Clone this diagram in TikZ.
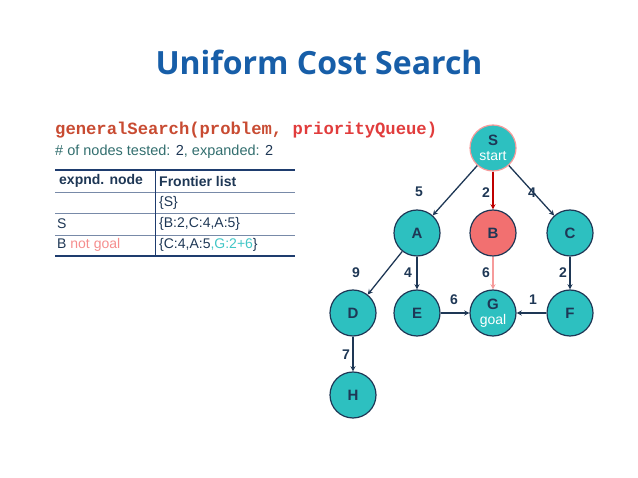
\documentclass[tikz,border=0pt]{standalone}
\usepackage{fontspec}
\setmainfont{Liberation Sans}
\newfontfamily\titlefont{Open Sans}
\setmonofont{Liberation Mono}
\begin{document}
\begin{tikzpicture}[x=1pt,y=-1pt,
  gnode/.style={circle,draw=edgec,line width=1.2pt,fill=teal1,minimum size=46pt,inner sep=0pt,font=\fontsize{15}{16}\selectfont\bfseries,text=edgec,align=center},
  edge/.style={draw=edgec,line width=1.3pt,-stealth},
  wl/.style={font=\fontsize{14}{15}\selectfont\bfseries,text=edgec},
  tl/.style={anchor=west,font=\fontsize{14}{15}\selectfont,text=edgec,inner sep=0pt}]
\definecolor{titleb}{RGB}{23,94,168}
\definecolor{edgec}{RGB}{30,55,85}
\definecolor{teal1}{RGB}{45,192,192}
\definecolor{salmon}{RGB}{242,112,112}
\definecolor{codea}{RGB}{200,75,50}
\definecolor{codeb}{RGB}{225,60,60}
\definecolor{tealg}{RGB}{50,110,110}
\definecolor{rule}{RGB}{30,60,110}
\useasboundingbox (0,0) rectangle (638,478);
\node[font=\titlefont\fontsize{32}{34}\selectfont\bfseries,text=titleb] (title) at (319,62) {Uniform Cost Search};
\node[anchor=west,inner sep=0pt,font=\ttfamily\bfseries\fontsize{17.2}{18}\selectfont] (code) at (55,130) {\textcolor{codea}{generalSearch(problem,} \textcolor{codeb}{priorityQueue)}};
\node[anchor=west,inner sep=0pt,font=\fontsize{14.5}{15}\selectfont,text=tealg] (cnt) at (55,152) {\# of nodes tested: \textcolor{edgec}{2}, expanded: \textcolor{edgec}{2}};
% table
\draw[rule,line width=1.6pt] (55,170) -- (295,170);
\draw[rule!60,line width=0.8pt] (55,192) -- (295,192);
\draw[rule!60,line width=0.8pt] (55,213) -- (295,213);
\draw[rule!60,line width=0.8pt] (55,235) -- (295,235);
\draw[rule,line width=1.6pt] (55,256) -- (295,256);
\draw[rule,line width=1pt] (155,170) -- (155,256);
\node[tl,font=\fontsize{14}{15}\selectfont\bfseries] (h1) at (59,181) {expnd. node};
\node[tl,font=\fontsize{14}{15}\selectfont\bfseries] (h2) at (159,181) {Frontier list};
\node[tl] (r1b) at (159,203) {\{S\}};
\node[tl] (r2a) at (57,224) {S};
\node[tl] (r2b) at (159,224) {\{B:2,C:4,A:5\}};
\node[tl] (r3a) at (57,245) {B \textcolor{salmon!80}{not goal}};
\node[tl] (r3b) at (159,245) {\{C:4,A:5\textcolor{teal1!90}{,G:2+6}\}};
% graph
\node[gnode,draw=salmon!70] (S) at (493,148) {S\\[-1pt]\textcolor{white}{\normalfont\fontsize{14}{15}\selectfont start}};
\node[gnode] (A) at (417,233) {A};
\node[gnode,fill=salmon] (B) at (493,233) {B};
\node[gnode] (C) at (570,233) {C};
\node[gnode] (D) at (353,313) {D};
\node[gnode] (E) at (417,313) {E};
\node[gnode] (G) at (493,313) {G\\[-1pt]\textcolor{white}{\normalfont\fontsize{14}{15}\selectfont goal}};
\node[gnode] (F) at (570,313) {F};
\node[gnode] (H) at (353,395) {H};
\draw[edge] (S) -- (A);
\draw[edge,draw=red!75!black] (S) -- (B);
\draw[edge] (S) -- (C);
\draw[edge] (A) -- (D);
\draw[edge] (A) -- (E);
\draw[edge,draw=salmon!70] (B) -- (G);
\draw[edge] (C) -- (F);
\draw[edge] (E) -- (G);
\draw[edge] (F) -- (G);
\draw[edge] (D) -- (H);
\node[wl] (l1) at (419,192) {5};
\node[wl] (l2) at (486,193) {2};
\node[wl] (l3) at (532,193) {4};
\node[wl] (l4) at (356,273) {9};
\node[wl] (l5) at (408,273) {4};
\node[wl] (l6) at (486,273) {6};
\node[wl] (l7) at (563,273) {2};
\node[wl] (l8) at (454,300) {6};
\node[wl] (l9) at (533,300) {1};
\node[wl] (l10) at (346,355) {7};
\end{tikzpicture}
\end{document}
